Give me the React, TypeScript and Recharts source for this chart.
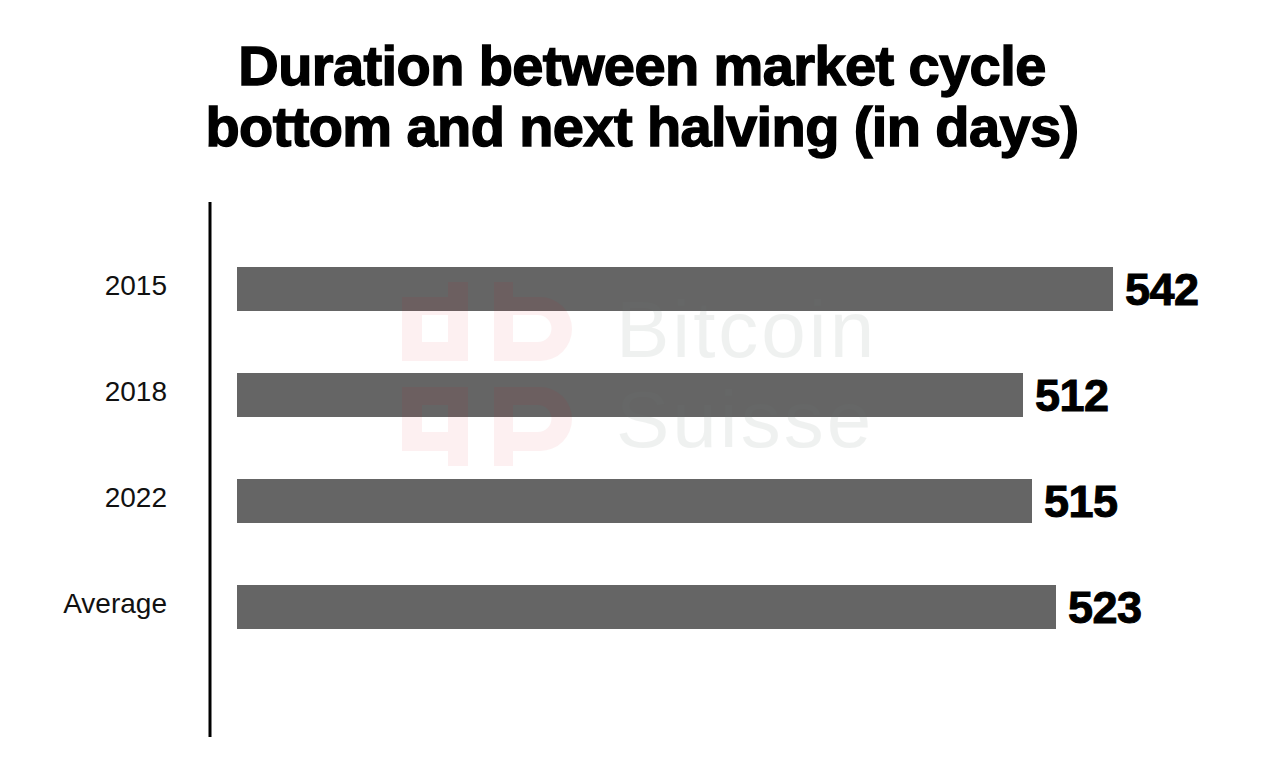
import { BarChart, Bar, XAxis, YAxis, LabelList } from "recharts";

const categories = ["2015", "2018", "2022", "Average"];
const durations = [542, 512, 515, 523];
const titleLines = [
  "Duration between market cycle",
  "bottom and next halving (in days)",
];
const watermarkWords = ["Bitcoin", "Suisse"];

const data = categories.map((name, i) => ({ name, days: durations[i] }));

const W = 1280;
const H = 759;
const FONT = '"Liberation Sans", Arial, Helvetica, sans-serif';

// faint brand mark behind the bars
function LogoPart({ dy, stemsDown }: { dy: number; stemsDown: boolean }) {
  const top = 297 + dy;
  const bottom = 361 + dy;
  const stemY = stemsDown ? bottom : top - 15;
  return (
    <g>
      <path
        fillRule="evenodd"
        d={`M402,${top}H468V${bottom}H402Z M422,${top + 18}V${bottom - 19}H448V${top + 18}Z`}
      />
      <path
        fillRule="evenodd"
        d={`M494,${top}H540A32,32 0 0 1 540,${bottom}H494Z M513,${top + 18}V${bottom - 19}H538A13.5,13.5 0 0 0 538,${top + 18}Z`}
      />
      <rect x={448} y={stemY} width={20} height={15} />
      <rect x={494} y={stemY} width={19} height={15} />
    </g>
  );
}

export default function App() {
  return (
    <div
      style={{
        position: "absolute",
        left: 0,
        top: 0,
        width: W,
        height: H,
        background: "#fff",
      }}
    >
      <BarChart
        width={W}
        height={H}
        data={data}
        layout="vertical"
        margin={{ top: 202, right: 68, bottom: 22, left: 0 }}
      >
        <XAxis
          type="number"
          domain={[250, 575]}
          hide
          padding={{ left: 27, right: 0 }}
        />
        <YAxis
          type="category"
          dataKey="name"
          width={210}
          padding={{ top: 34, bottom: 77 }}
          axisLine={{ stroke: "#000", strokeWidth: 3 }}
          tickLine={false}
          tickMargin={37}
          tick={{ fill: "#111", fontSize: 28, fontFamily: FONT, dy: -4 }}
        />
        <Bar
          dataKey="days"
          fill="#656565"
          barSize={44}
          isAnimationActive={false}
        >
          <LabelList
            dataKey="days"
            position="right"
            offset={12}
            fill="#000"
            stroke="#000"
            strokeWidth={1}
            fontSize={45}
            fontWeight={700}
            fontFamily={FONT}
            letterSpacing={-0.5}
          />
        </Bar>
      </BarChart>

      <svg
        width={W}
        height={H}
        style={{ position: "absolute", left: 0, top: 0, pointerEvents: "none" }}
      >
        {titleLines.map((line, i) => (
          <text
            key={line}
            x={642}
            y={85 + i * 61}
            textAnchor="middle"
            fontFamily={FONT}
            fontSize={56}
            fontWeight={700}
            letterSpacing={-0.6}
            fill="#000"
            stroke="#000"
            strokeWidth={1.4}
          >
            {line}
          </text>
        ))}
        <g fill="#e30613" opacity={0.055}>
          <LogoPart dy={0} stemsDown={false} />
          <LogoPart dy={90} stemsDown={true} />
        </g>
        {watermarkWords.map((word, i) => (
          <text
            key={word}
            x={616}
            y={357 + i * 90}
            fontFamily={FONT}
            fontSize={80}
            letterSpacing={3}
            fill="#6f8078"
            opacity={0.1}
          >
            {word}
          </text>
        ))}
      </svg>
    </div>
  );
}
